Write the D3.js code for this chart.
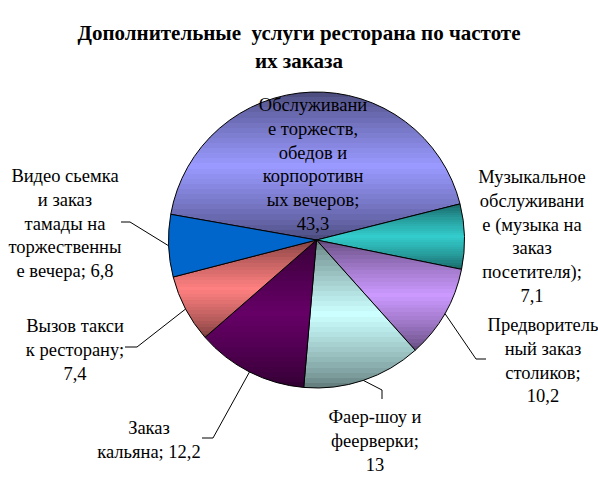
<!DOCTYPE html>
<html>
<head>
<meta charset="utf-8">
<script src="https://cdn.jsdelivr.net/npm/d3@7"></script>
<style>
  html, body {margin: 0; padding: 0; background: #fff;}
  text {font-family: "Liberation Serif", serif; fill: #000;}
</style>
</head>
<body>
<div id="chart"></div>
<script>
var title = ["Дополнительные  услуги ресторана по частоте", "их заказа"]
var services = [
  "Обслуживание торжеств, обедов и корпоротивных вечеров",
  "Музыкальное обслуживание (музыка на заказ посетителя)",
  "Предворительный заказ столиков",
  "Фаер-шоу и феерверки",
  "Заказ кальяна",
  "Вызов такси к ресторану",
  "Видео сьемка и заказ тамады на торжественные вечера"
]
var shares = [43.3, 7.1, 10.2, 13, 12.2, 7.4, 6.8]
var colors = ["#9999ff", "#33cccc", "#cc99ff", "#ccffff", "#660066", "#ff8080", "#0066cc"]
var labelLines = [
  ["Обслуживани", "е торжеств,", "обедов и", "корпоротивн", "ых вечеров;", "43,3"],
  ["Музыкальное", "обслуживани", "е (музыка на", "заказ", "посетителя);", "7,1"],
  ["Предворитель", "ный заказ", "столиков;", "10,2"],
  ["Фаер-шоу и", "феерверки;", "13"],
  ["Заказ", "кальяна; 12,2"],
  ["Вызов такси", "к ресторану;", "7,4"],
  ["Видео сьемка", "и заказ", "тамады на", "торжественны", "е вечера; 6,8"]
]
// label centre x and first line y, as placed in the picture
var labelPos = [[313, 111], [532, 183], [543, 331], [375, 423], [149, 434], [75, 332], [65, 182]]
// leader elbows, null = label sits without a line
var leaders = [null, null, [[476, 359], [486, 359]], [[382, 390], [382, 399]], [[213, 438], [202, 438]], [[137, 347], [125, 347]], [[130, 222], [121, 222]]]

var width = 598, height = 488
var cx = 316.5, cy = 240, radius = 148

var svg = d3.select("#chart").append("svg")
  .attr("width", width)
  .attr("height", height)
  .style("display", "block")

title.forEach(function(t, i) {
  svg.append("text")
    .attr("x", 299)
    .attr("y", 40 + i * 28)
    .attr("text-anchor", "middle")
    .attr("font-size", 21)
    .attr("font-weight", "bold")
    .style("white-space", "pre")
    .text(t)
})

// the original fills are banded dark-light-dark, so build stepped gradients
var defs = svg.append("defs")
var bands = 14
colors.forEach(function(c, i) {
  var grad = defs.append("linearGradient")
    .attr("id", "fill" + i)
    .attr("x1", 0).attr("y1", 0).attr("x2", 0).attr("y2", 1)
  if (i == 6) {
    grad.append("stop").attr("offset", 0).attr("stop-color", c)
    return
  }
  var dark = d3.interpolateRgb("#000", c)(0.5)
  var total = bands * 2 + 1
  d3.range(total).forEach(function(b) {
    var t = Math.pow(1 - Math.abs(b - bands) / bands, 0.8)
    var col = d3.interpolateRgb(dark, c)(t)
    grad.append("stop").attr("offset", b / total).attr("stop-color", col)
    grad.append("stop").attr("offset", (b + 1) / total).attr("stop-color", col)
  })
})

var pie = d3.pie().sort(null).startAngle(-80 * Math.PI / 180).endAngle(280 * Math.PI / 180)
var arc = d3.arc().innerRadius(0).outerRadius(radius)
var slices = pie(shares)

var g = svg.append("g").attr("transform", "translate(" + cx + "," + cy + ")")
g.selectAll("path").data(slices)
  .enter()
    .append("path")
    .attr("d", arc)
    .attr("fill", (d, i) => "url(#fill" + i + ")")
    .attr("stroke", "#000")
    .attr("stroke-width", 1)

var line = d3.line()
slices.forEach(function(d, i) {
  if (!leaders[i]) return
  var mid = (d.startAngle + d.endAngle) / 2
  var rim = [cx + radius * Math.sin(mid), cy - radius * Math.cos(mid)]
  svg.append("path")
    .attr("d", line([rim].concat(leaders[i])))
    .attr("fill", "none")
    .attr("stroke", "#000")
    .attr("stroke-width", 1)
})

labelLines.forEach(function(lines, i) {
  lines.forEach(function(t, j) {
    svg.append("text")
      .attr("x", labelPos[i][0])
      .attr("y", labelPos[i][1] + j * 23.8)
      .attr("text-anchor", "middle")
      .attr("font-size", 18.5)
      .text(t)
  })
})
</script>
</body>
</html>
